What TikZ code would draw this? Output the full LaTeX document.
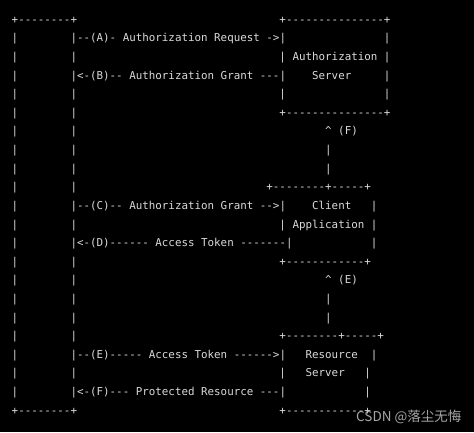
\documentclass[tikz,border=0pt]{standalone}
\usepackage{fontspec}
\setmonofont{DejaVu Sans Mono}
\newfontfamily\cjkfont{Noto Sans CJK SC}
\definecolor{termfg}{HTML}{DADADA}
\definecolor{markfg}{HTML}{B8B8B8}

\begin{document}
\begin{tikzpicture}[x=6.53pt, y=-18.62pt,
    txt/.style={anchor=base west, inner sep=0pt, outer sep=0pt, text=termfg,
      font=\fontsize{10.85}{13}\selectfont\ttfamily},
    wmark/.style={inner sep=0pt, text=markfg, opacity=0.9,
      font=\fontsize{13.5}{15}\cjkfont}]
    % Terminal background
    \fill[black] (-2.297,-0.074) rectangle (70.29,23.127);
    \useasboundingbox (-2.297,-0.074) rectangle (70.29,23.127);

    \begin{scope}[shift={(-0.5,0.172)}]
    % Left box
    \node[txt] (cltop) at (0,1) {+--------+};
    \node[txt] (clbot) at (0,22) {+--------+};
    \foreach \r in {2,...,21}
        \node[txt] (l\r) at (0,\r) {|};
    \foreach \r in {3,5,6,7,8,9,10,12,14,15,16,17,18,20}
        \node[txt] (m\r) at (9,\r) {|};

    % Messages
    \node[txt] (msgA) at (9,2) {|--(A)- Authorization Request ->|};
    \node[txt] (msgB) at (9,4) {|<-(B)-- Authorization Grant ---|};
    \node[txt] (msgC) at (9,11) {|--(C)-- Authorization Grant -->|};
    \node[txt] (msgD) at (9,13) {|<-(D)------ Access Token -------|};
    \node[txt] (msgE) at (9,19) {|--(E)----- Access Token ------>|};
    \node[txt] (msgF) at (9,21) {|<-(F)--- Protected Resource ---|};

    % Authorization server
    \node[txt] (astop) at (41,1) {+---------------+};
    \node[txt] (as2) at (57,2) {|};
    \node[txt] (asname) at (41,3) {| Authorization |};
    \node[txt] (asname2) at (46,4) {Server};
    \node[txt] (as4) at (57,4) {|};
    \node[txt] (as5a) at (41,5) {|};
    \node[txt] (as5b) at (57,5) {|};
    \node[txt] (asbot) at (41,6) {+---------------+};

    % Link (F)
    \node[txt] (arrF) at (48,7) {\textasciicircum{} (F)};
    \node[txt] (linkF8) at (48,8) {|};
    \node[txt] (linkF9) at (48,9) {|};

    % Client application
    \node[txt] (catop) at (39,10) {+--------+-----+};
    \node[txt] (caname) at (46,11) {Client};
    \node[txt] (ca11) at (55,11) {|};
    \node[txt] (caname2) at (41,12) {| Application |};
    \node[txt] (ca13) at (55,13) {|};
    \node[txt] (cabot) at (41,14) {+------------+};

    % Link (E)
    \node[txt] (arrE) at (48,15) {\textasciicircum{} (E)};
    \node[txt] (linkE16) at (48,16) {|};
    \node[txt] (linkE17) at (48,17) {|};

    % Resource server
    \node[txt] (rstop) at (41,18) {+--------+-----+};
    \node[txt] (rsname) at (45,19) {Resource};
    \node[txt] (rs19) at (55,19) {|};
    \node[txt] (rs20a) at (41,20) {|};
    \node[txt] (rsname2) at (45,20) {Server};
    \node[txt] (rs20b) at (54,20) {|};
    \node[txt] (rs21) at (54,21) {|};
    \node[txt] (rsbot) at (41,22) {+------------+};
    \end{scope}

    % Watermark
    \node[wmark] (csdn) at (60.3,22.32) {CSDN @落尘无悔};
\end{tikzpicture}
\end{document}
